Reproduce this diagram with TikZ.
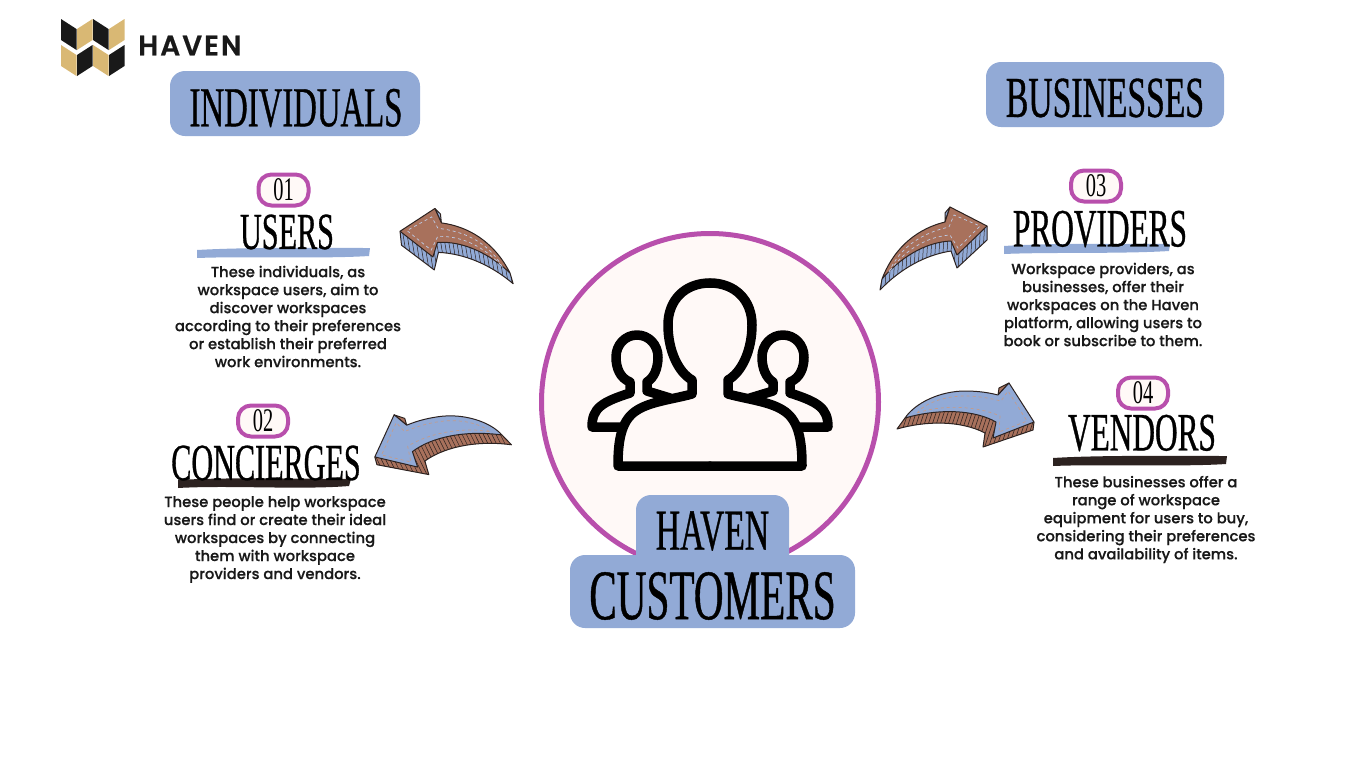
\documentclass[tikz,border=0pt]{standalone}
\usepackage{fontspec}
\usepackage{xcolor}
\setmainfont{Poppins}[UprightFont=* Medium,FakeBold=0.4]
\newfontfamily\titlefont[FakeStretch=0.58,FakeBold=0.6]{Liberation Serif}
\newfontfamily\numfont[FakeStretch=0.62]{Liberation Serif}
\newfontfamily\logofont[UprightFont=* SemiBold,LetterSpace=7,FakeBold=0.4]{Poppins}
\definecolor{myblue}{RGB}{146,170,214}
\definecolor{mybrown}{RGB}{168,113,92}
\definecolor{mypurple}{RGB}{184,79,172}
\definecolor{myblush}{RGB}{255,249,247}
\definecolor{mydark}{RGB}{44,34,32}
\definecolor{mygold}{RGB}{217,184,116}
\tikzset{
  banner/.style={fill=myblue,rounded corners=15pt,inner sep=0pt},
  pillnum/.style={draw=mypurple,line width=4pt,fill=myblush,rounded corners=13pt,minimum width=50pt,minimum height=31pt,inner sep=0pt,font=\numfont\fontsize{33}{33}\selectfont},
  heading/.style={font=\titlefont\fontsize{52}{52}\selectfont,inner sep=0pt},
  bodytext/.style={font=\fontsize{14.8}{18}\selectfont,align=center,inner sep=0pt,text=black!90},
  pics/bentup/.style 2 args={code={
    \begin{scope}
      \clip (0,0) -- (-2,11) .. controls (18,-10) and (43,-24) .. (69,-28) -- (75,-11) -- (105,-39) -- (105,-53) -- (75,-24) -- (69,-38) .. controls (43,-37) and (18,-21) .. (0,0);
      \fill[#2] (-5,-80) rectangle (110,20);
      \foreach \i in {0,4,...,120} \draw[mydark,line width=0.5pt] (\i-6,25) -- (\i-1,-60);
    \end{scope}
    \draw[mydark,line width=1pt,line join=round] (0,0) -- (-2,11) .. controls (18,-10) and (43,-24) .. (69,-28) -- (75,-11) -- (105,-39) -- (105,-53);
    \draw[mydark,fill=#2,line width=1pt,line join=round] (63,-57) -- (63,-66) -- (68,-72) -- cycle;
    \draw[mydark,fill=#1,line width=1pt,line join=round] (0,0) .. controls (13,-34) and (38,-51) .. (63,-57) -- (68,-72) -- (105,-53) -- (75,-24) -- (69,-38) .. controls (43,-37) and (18,-21) .. (0,0) -- cycle;
    \draw[#2!60!white,dashed,line width=0.7pt] (7,-7) .. controls (18,-32) and (40,-46) .. (67,-52) -- (72,-64) -- (98,-53) -- (76,-31) -- (68,-44) .. controls (43,-42) and (22,-28) .. (7,-7);
  }},
  pics/bentflat/.style 2 args={code={
    \begin{scope}
      \clip (0,0) -- (-8,11) .. controls (20,3) and (55,2) .. (80,15) -- (78,29) -- (128,12) -- (129,4) -- (88,20) -- (91,4) .. controls (70,-8) and (35,-10) .. (0,0);
      \fill[#2] (-10,-40) rectangle (135,40);
      \foreach \i in {0,4,...,160} \draw[mydark,line width=0.5pt] (\i-12,40) -- (\i+8,-20);
    \end{scope}
    \draw[mydark,line width=1pt,line join=round] (0,0) -- (-8,11) .. controls (20,3) and (55,2) .. (80,15) -- (78,29) -- (128,12) -- (129,4);
    \draw[mydark,fill=#2,line width=1pt,line join=round] (93,-23) -- (94,-30) -- (104,-35) -- cycle;
    \draw[mydark,fill=#1,line width=1pt,line join=round] (0,0) .. controls (10,-15) and (35,-27) .. (60,-27) .. controls (75,-27) and (85,-25) .. (93,-23) -- (104,-35) -- (129,4) -- (88,20) -- (91,4) .. controls (70,-8) and (35,-10) .. (0,0) -- cycle;
    \draw[#2!70!white,dashed,line width=0.7pt] (12,-5) .. controls (20,-15) and (40,-22) .. (60,-22) .. controls (75,-22) and (88,-19) .. (96,-17) -- (103,-27) -- (122,3) -- (94,14) -- (95,-2) .. controls (70,-13) and (35,-13) .. (12,-5);
  }}
}
\begin{document}
\begin{tikzpicture}[x=1pt,y=-1pt]
  \useasboundingbox (0,0) rectangle (1358,764);

  % logo
  \foreach \x in {61,93}{
    \fill[black!90] (\x,19) -- ++(15.5,10) -- ++(0,21) -- ++(-15.5,-10) -- cycle;
    \fill[mygold] (\x+16,29) -- ++(15.5,-10) -- ++(0,21) -- ++(-15.5,10) -- cycle;
    \fill[mygold] (\x,45) -- ++(15.5,10) -- ++(0,21) -- ++(-15.5,-10) -- cycle;
    \fill[black!90] (\x+16,55) -- ++(15.5,-10) -- ++(0,21) -- ++(-15.5,10) -- cycle;
  }
  \node[anchor=west,inner sep=0pt,text=black!90] (logo) at (138,45.5) {\logofont\fontsize{28}{28}\selectfont HAVEN};

  % banners
  \node[banner,minimum width=250pt,minimum height=65pt] (individuals) at (295,103.5) {};
  \node[heading,font=\titlefont\fontsize{56.5}{56.5}\selectfont] (lblind) at (296,108) {INDIVIDUALS};
  \node[banner,minimum width=238pt,minimum height=65pt] (businesses) at (1105,94.5) {};
  \node[heading,font=\titlefont\fontsize{58}{58}\selectfont] (lblbus) at (1105,98) {BUSINESSES};

  % centre circle
  \node[circle,draw=mypurple,line width=5pt,fill=myblush,minimum size=337pt,inner sep=0pt] (hub) at (710,402) {};
  \node[banner,minimum width=153pt,minimum height=80pt] (haven) at (712.5,535) {};
  \node[banner,minimum width=285pt,minimum height=73pt] (customers) at (712.5,591.5) {};
  \node[heading,font=\titlefont\fontsize{58}{58}\selectfont] (lblhav) at (712.5,531) {HAVEN};
  \node[heading,font=\titlefont\fontsize{71}{71}\selectfont] (lblcus) at (712.5,596) {CUSTOMERS};

  % people icon
  \foreach \s in {1,-1}{
    \begin{scope}[xshift=710pt,xscale=\s,line width=9.5pt,line join=round,line cap=round]
      \draw (0,466) -- (-92,466) .. controls (-92,445) and (-90,425) .. (-78,414) .. controls (-65,402) and (-40,400) .. (-18,394) -- (-18,380) .. controls (-32,372) and (-42,350) .. (-42,325) .. controls (-42,300) and (-25,283) .. (0,283);
      \draw (-90,427) -- (-118,427) .. controls (-118,408) and (-108,402) .. (-80,393) -- (-80,382) .. controls (-90,378) and (-94,368) .. (-94,357) .. controls (-94,345) and (-85,335) .. (-73,335) .. controls (-61,335) and (-52,345) .. (-52,357) .. controls (-52,368) and (-56,378) .. (-63,382) -- (-63,391) -- (-40,398);
    \end{scope}
  }

  % arrows
  \pic at (882,279) {bentup={mybrown}{myblue}};
  \pic[rotate=6,xscale=-1] at (510,273) {bentup={mybrown}{myblue}};
  \pic at (905,418) {bentflat={myblue}{mybrown}};
  \pic[rotate=8,xscale=-1] at (502,435) {bentflat={myblue}{mybrown}};

  % brush strokes
  \fill[myblue] (197,250) .. controls (250,247) and (320,248) .. (370,248) -- (369,256) .. controls (320,259) and (250,256) .. (197,258) -- cycle;
  \fill[mydark] (178,480) .. controls (230,477) and (300,479) .. (351,479) -- (349,486) .. controls (300,490) and (230,485) .. (178,488) -- cycle;
  \fill[myblue] (1004,246) .. controls (1050,243) and (1120,244) .. (1170,244) -- (1169,251) .. controls (1120,254) and (1050,252) .. (1004,254) -- cycle;
  \fill[mydark] (1053,458) .. controls (1100,455) and (1180,456) .. (1227,456) -- (1226,464) .. controls (1180,467) and (1100,464) .. (1053,466) -- cycle;

  % users
  \node[pillnum] (n1) at (283.5,190) {01};
  \node[heading] (users) at (287,232) {USERS};
  \node[bodytext] (t1) at (288,316.5) {These individuals, as\\workspace users, aim to\\discover workspaces\\according to their preferences\\or establish their preferred\\work environments.};

  % concierges
  \node[pillnum] (n2) at (263,421) {02};
  \node[heading] (concierges) at (266,463) {CONCIERGES};
  \node[bodytext] (t2) at (275,539.5) {These people help workspace\\users find or create their ideal\\workspaces by connecting\\them with workspace\\providers and vendors.};

  % providers
  \node[pillnum] (n3) at (1096,186) {03};
  \node[heading,font=\titlefont\fontsize{54}{54}\selectfont] (providers) at (1100,229) {PROVIDERS};
  \node[bodytext] (t3) at (1103,304.5) {Workspace providers, as\\businesses, offer their\\workspaces on the Haven\\platform, allowing users to\\book or subscribe to them.};

  % vendors
  \node[pillnum] (n4) at (1143,393) {04};
  \node[heading,font=\titlefont\fontsize{54}{54}\selectfont] (vendors) at (1142,433) {VENDORS};
  \node[bodytext] (t4) at (1146,519.5) {These businesses offer a\\range of workspace\\equipment for users to buy,\\considering their preferences\\and availability of items.};
\end{tikzpicture}
\end{document}
